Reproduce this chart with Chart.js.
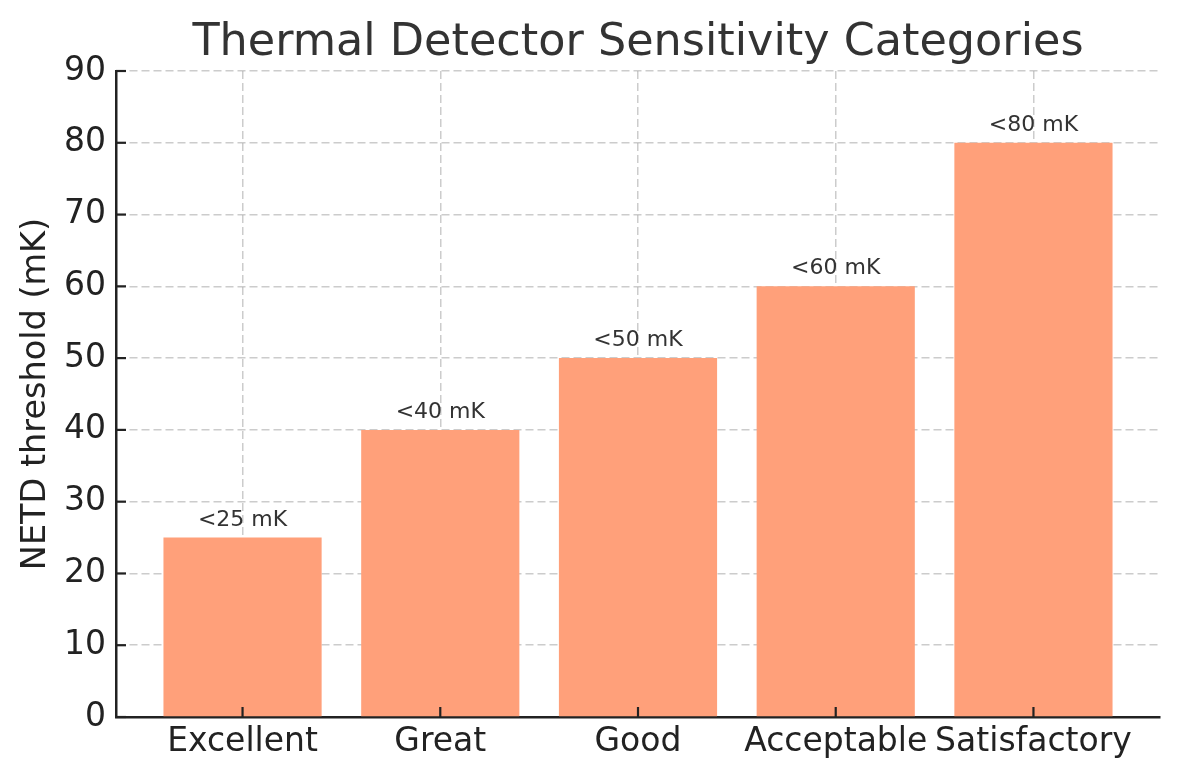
<!DOCTYPE html>
<html>
<head>
<meta charset="utf-8">
<script src="https://cdn.jsdelivr.net/npm/chart.js@4/dist/chart.umd.min.js"></script>
<style>
html,body{margin:0;padding:0;background:#fff;}
#wrap{width:1180px;height:780px;}
</style>
</head>
<body>
<div id="wrap"><canvas id="c" width="1180" height="780"></canvas></div>
<script>
const categories = ["Excellent", "Great", "Good", "Acceptable", "Satisfactory"];
const netdValues = [25, 40, 50, 60, 80];
const barLabels = ["<25 mK", "<40 mK", "<50 mK", "<60 mK", "<80 mK"];
const yTicks = [0, 10, 20, 30, 40, 50, 60, 70, 80, 90];
const chartTitle = "Thermal Detector Sensitivity Categories";
const yTitle = "NETD threshold (mK)";

const FONT = "'DejaVu Sans', sans-serif";

const overlay = {
  id: 'overlay',
  afterDraw(chart) {
    const ctx = chart.ctx;
    const area = chart.chartArea;
    const xs = chart.scales.x, ys = chart.scales.y;
    ctx.save();
    ctx.fillStyle = '#333333';
    ctx.font = "44.5px " + FONT;
    ctx.textAlign = 'center';
    ctx.textBaseline = 'alphabetic';
    ctx.fillText(chartTitle, (area.left + area.right) / 2, 55);
    ctx.strokeStyle = '#222222';
    ctx.lineWidth = 2.2;
    xs.ticks.forEach((t) => {
      const px = xs.getPixelForValue(t.value);
      ctx.beginPath(); ctx.moveTo(px, area.bottom); ctx.lineTo(px, area.bottom - 10); ctx.stroke();
    });
    ys.ticks.forEach((t) => {
      const py = ys.getPixelForValue(t.value);
      ctx.beginPath(); ctx.moveTo(area.left, py); ctx.lineTo(area.left + 10, py); ctx.stroke();
    });
    ctx.fillStyle = '#333333';
    ctx.font = "22px " + FONT;
    ctx.textAlign = 'center';
    ctx.textBaseline = 'alphabetic';
    const meta = chart.getDatasetMeta(0);
    meta.data.forEach((bar, i) => {
      ctx.fillText(barLabels[i], bar.x, bar.y - 12);
    });
    ctx.restore();
  }
};

new Chart(document.getElementById('c'), {
  type: 'bar',
  data: {
    datasets: [{
      data: netdValues.map((v, i) => ({ x: i, y: v })),
      backgroundColor: '#FFA07A',
      borderWidth: 0,
      barPercentage: 0.8,
      categoryPercentage: 1.0
    }]
  },
  options: {
    responsive: false,
    animation: false,
    devicePixelRatio: 1,
    layout: { padding: { top: 71, right: 20, left: 0, bottom: 0 } },
    plugins: { legend: { display: false }, tooltip: { enabled: false }, title: { display: false } },
    scales: {
      x: {
        type: 'linear',
        min: -0.64,
        max: 4.64,
        offset: false,
        z: 1,
        afterBuildTicks(scale) { scale.ticks = categories.map((_, i) => ({ value: i })); },
        afterFit(scale) { scale.height = 63; },
        ticks: {
          callback: (v) => categories[v],
          font: { family: FONT, size: 33 },
          color: '#222222',
          padding: 6,
          maxRotation: 0,
          autoSkip: false
        },
        grid: { offset: false, color: 'rgba(176,176,176,0.65)', lineWidth: 1.5, drawTicks: false },
        border: { color: '#222222', width: 2.5, dash: [8, 4], display: true }
      },
      y: {
        min: 0,
        max: 90,
        z: 1,
        afterBuildTicks(scale) { scale.ticks = yTicks.map(v => ({ value: v })); },
        afterFit(scale) { scale.width = 116; },
        ticks: {
          font: { family: FONT, size: 33 },
          color: '#222222',
          padding: 10
        },
        grid: { color: 'rgba(176,176,176,0.65)', lineWidth: 1.5, drawTicks: false },
        border: { color: '#222222', width: 2.5, dash: [8, 4], display: true },
        title: {
          display: true,
          text: yTitle,
          font: { family: FONT, size: 33.5 },
          color: '#222222',
          padding: { top: 16, bottom: 0 }
        }
      }
    }
  },
  plugins: [overlay]
});
</script>
</body>
</html>
